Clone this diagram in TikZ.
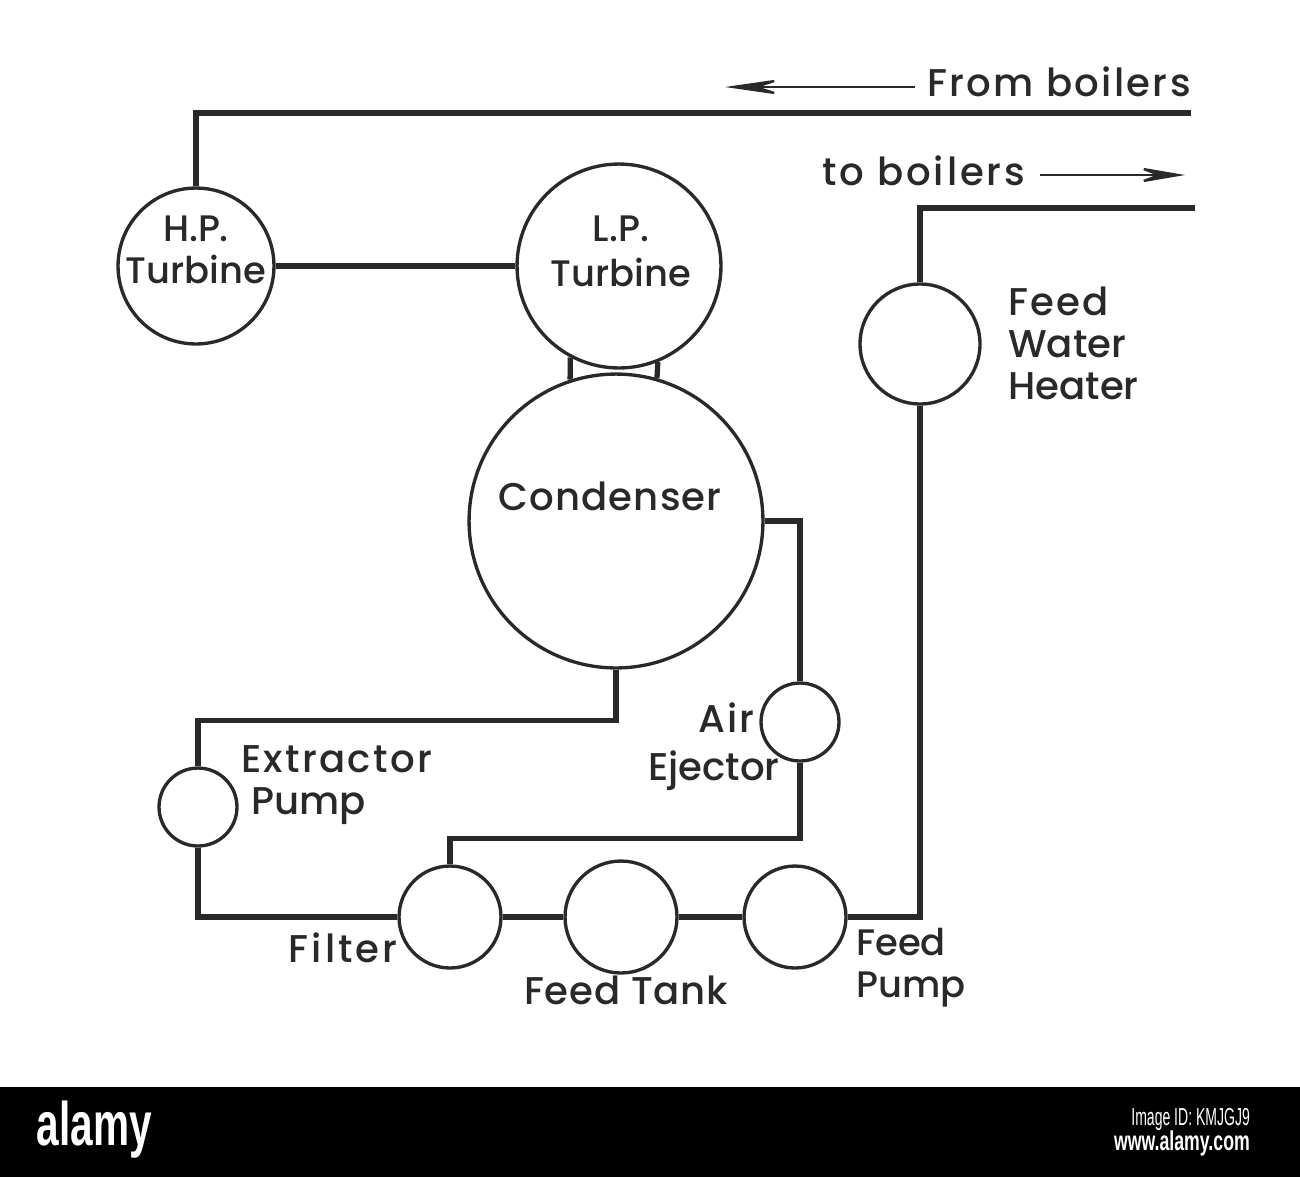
\documentclass[tikz,border=0pt]{standalone}
\usepackage{fontspec}
\setmainfont{Poppins}[UprightFont=* Medium]
\newfontfamily\bannerfont{Liberation Sans}
\usetikzlibrary{arrows.meta, calc, positioning}
\definecolor{inkgray}{gray}{0.16}
\newcommand{\widetext}[1]{\addfontfeature{LetterSpace=#1}}
\tikzset{
    vessel/.style={
        draw=inkgray, circle, line width=1.9pt,
        inner sep=0pt, minimum size=#1*0.04cm
    },
    pipe/.style={draw=inkgray, line width=3pt, line join=miter},
    flowarrow/.style={
        draw=inkgray, line width=1.3pt,
        -{Stealth[length=#1, width=0.36cm, inset=0.45*#1]}
    },
    plainlabel/.style={
        text=inkgray, inner sep=0pt, align=left,
        font=\fontsize{22}{23.8}\selectfont
    },
    smalllabel/.style={
        plainlabel, font=\fontsize{21}{23.8}\selectfont
    },
    bannerlabel/.style={text=white, inner sep=0pt, anchor=east}
}

\begin{document}
\begin{tikzpicture}[x=0.02cm, y=-0.02cm]
    \useasboundingbox (0,0) rectangle (1300,1177);
    \fill[black] (0,1087) rectangle (1300,1177);

    \node[vessel=78] (hpturbine) at (196,266) {};
    \node[vessel=102] (lpturbine) at (619,266) {};
    \node[vessel=147] (condenser) at (616,521) {};
    \node[vessel=60] (feedheater) at (920,344) {};
    \node[vessel=39] (airejector) at (800,722) {};
    \node[vessel=39] (extractor) at (198,807) {};
    \node[vessel=51] (filter) at (450,917) {};
    \node[vessel=56] (feedtank) at (621,917) {};
    \node[vessel=51] (feedpump) at (795,917) {};

    \coordinate (steamin) at (1191,113);
    \coordinate (feedout) at (1195,208);
    \coordinate (fromtip) at (725,87);
    \coordinate (totip) at (1185,175);

    % steam side
    \draw[pipe] (hpturbine.north) -- (hpturbine.north |- steamin) -- (steamin);
    \draw[pipe] (hpturbine.east) -- (lpturbine.west);
    \draw[pipe] (lpturbine.242) -- (condenser.108);
    \draw[pipe] (lpturbine.292) -- (condenser.74);

    % condensate and feed side
    \draw[pipe] (condenser.south) -- ++(0,51) -| (extractor.north);
    \draw[pipe] (extractor.south) |- (filter.west);
    \draw[pipe] (condenser.east) -| (airejector.north);
    \draw[pipe] (airejector.south) -- ++(0,76) -| (filter.north);
    \draw[pipe] (filter.east) -- (feedtank.west);
    \draw[pipe] (feedtank.east) -- (feedpump.west);
    \draw[pipe] (feedpump.east) -| (feedheater.south);
    \draw[pipe] (feedheater.north) |- (feedout);

    \node[plainlabel, anchor=base east] (fromlabel) at (1191,96) {\widetext{6}From boilers};
    \node[plainlabel, anchor=base west] (tolabel) at (822,185) {\widetext{7.5}to boilers};
    \draw[flowarrow=1.25cm] (fromlabel.west |- fromtip) ++(-12,0) -- (fromtip);
    \draw[flowarrow=1.05cm] (tolabel.east |- totip) ++(14,0) -- (totip);

    \node[smalllabel, align=center] (hplabel) at (196,250) {H.P.\\Turbine};
    \node[smalllabel, align=center] (lplabel) at (621,251) {L.P.\\[0.06cm]Turbine};
    \node[plainlabel] (condlabel) at (610,496) {\widetext{3}Condenser};
    \node[plainlabel, anchor=north west] (heaterlabel) at (1008,287) {\widetext{6}Feed\\Water\\Heater};
    \node[plainlabel, align=right, anchor=east] (ejectorlabel) at (780,747) {\widetext{6}Air\hspace*{0.5cm}\\[0.12cm]Ejector};
    \node[plainlabel, anchor=west] (extractlabel) at (241,785) {\widetext{6}Extractor\\\hspace*{0.2cm}Pump};
    \node[plainlabel, anchor=east] (filterlabel) at (398,948) {\widetext{8}Filter};
    \node[plainlabel] (tanklabel) at (626,990) {\widetext{2}Feed Tank};
    \node[smalllabel, anchor=west] (pumplabel) at (856,968) {Feed\\Pump};

    \node[bannerlabel, xscale=0.66] (stockname) at (152,1130) {\bannerfont\bfseries\fontsize{35}{35}\selectfont alamy};
    \node[bannerlabel, xscale=0.57] (stockid) at (1250,1119) {\bannerfont\fontsize{14}{14}\selectfont Image ID: KMJGJ9};
    \node[bannerlabel, xscale=0.65] (stockurl) at (1250,1143) {\bannerfont\bfseries\fontsize{15.5}{15.5}\selectfont www.alamy.com};
\end{tikzpicture}
\end{document}
